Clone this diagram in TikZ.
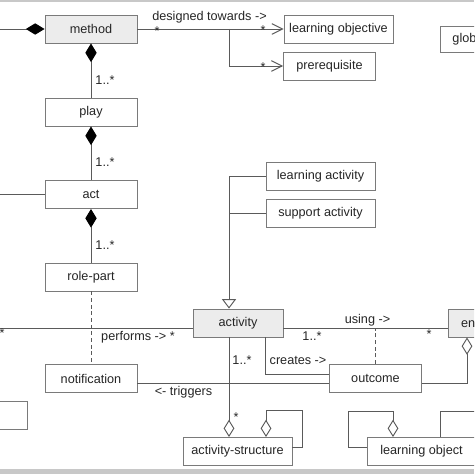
\documentclass[tikz,border=0pt]{standalone}
\usepackage{fontspec}
\setmainfont{Liberation Sans}
\usetikzlibrary{arrows.meta,calc}
\definecolor{umlline}{HTML}{5A5A5A}
\definecolor{umlbox}{HTML}{7A7A7A}
\definecolor{umlfill}{HTML}{ECECEC}
\definecolor{umlband}{HTML}{C8C8C8}

\begin{document}
\begin{tikzpicture}[x=0.75pt,y=-0.75pt,
    font=\fontsize{9.5}{11}\selectfont,
    cls/.style={draw=umlbox,line width=0.7pt,fill=white,minimum width=69pt,minimum height=21pt,inner sep=0pt,text=black!85},
    wide/.style={minimum width=81.75pt},
    hl/.style={fill=umlfill},
    lbl/.style={inner sep=0pt,text=black!85},
    conn/.style={draw=umlline,line width=0.7pt},
    comp/.style={conn,{Diamond[length=14pt,width=8.5pt,color=black]}-},
    agg/.style={conn,{Diamond[length=13pt,width=8pt,fill=white]}-},
    gen/.style={conn,-{Triangle[length=7pt,width=10.5pt,fill=white]}},
    nav/.style={conn,-{Straight Barb[length=8pt,width=8pt]}}]
    \useasboundingbox (0,0) rectangle (474,474);
    \clip (0,0) rectangle (474,474);

    % classes
    \node[cls,hl] (method) at (91,29) {method};
    \node[cls] (play) at (91,112) {play};
    \node[cls] (act) at (91,194.5) {act};
    \node[cls] (rolepart) at (91,277) {role-part};
    \node[cls] (notification) at (91,378.5) {notification};
    \node[cls] (leftbox) at (-19,415.5) {};
    \node[cls,hl,minimum width=67.5pt] (activity) at (238,323) {activity};
    \node[cls,wide] (actstruct) at (237.5,451.5) {activity-structure};
    \node[cls,wide] (learnact) at (320.5,176) {learning activity};
    \node[cls,wide] (suppact) at (320.5,213) {support activity};
    \node[cls,wide] (objective) at (338.5,29.5) {learning objective};
    \node[cls] (prereq) at (329.5,66) {prerequisite};
    \node[cls] (outcome) at (375.5,378.5) {outcome};
    \node[cls,wide] (learnobj) at (421.5,451.5) {learning object};
    \node[cls,hl,anchor=west,minimum width=0pt,inner xsep=9.5pt] (env) at (448,323) {environment};
    \node[cls,anchor=west,minimum width=0pt,minimum height=19pt,inner xsep=9pt] (global) at (440,39.5) {global elements};

    % helper points
    \coordinate (lm) at (-10,29);
    \coordinate (la) at (-10,194.5);
    \coordinate (lr) at (-10,328);
    \coordinate (split) at (229,29);
    \coordinate (gx) at (229,0);
    \coordinate (cx) at (265,0);
    \coordinate (ax) at (266,0);
    \coordinate (lox) at (393,0);
    \coordinate (rox) at (440,0);
    \coordinate (ex) at (467,0);
    \coordinate (trig) at ($(outcome.west)+(0,4.5)$);
    \coordinate (crt) at ($(outcome.west)+(0,-4.5)$);
    \coordinate (oe) at ($(outcome.east)+(0,4.5)$);

    % method side
    \draw[comp] (method) -- (lm);
    \draw[nav] (method.east) -- (method.east -| objective.west);
    \draw[nav] (split) |- (prereq.west);
    \node[lbl,anchor=west] (lbldesign) at (152,17) {designed towards ->};
    \node[lbl] (mdes) at (157,31) {*};
    \node[lbl] (mobj) at (263,30) {*};
    \node[lbl] (mpre) at (263,67) {*};

    \draw[comp] (method) -- (play);
    \node[lbl] (mplay) at (105,80) {1..*};
    \draw[comp] (play) -- (act);
    \node[lbl] (mact) at (105,162) {1..*};
    \draw[comp] (act) -- (rolepart);
    \node[lbl] (mrole) at (105,245) {1..*};
    \draw[conn] (act) -- (la);
    \draw[conn,dash pattern=on 3pt off 2pt] (rolepart) -- (notification);

    % performs
    \draw[conn] (lr) -- (lr -| activity.west);
    \node[lbl] (mperf) at (2,333) {*};
    \node[lbl] (lblperf) at (138,337) {performs -> *};

    % activity types
    \draw[gen] (learnact.west) -| (activity.north -| gx);
    \draw[conn] (suppact.west) -- (suppact.west -| gx);

    % activity-structure
    \draw[agg] (actstruct.north -| gx) -- (activity.south -| gx);
    \node[lbl] (mstr1) at (242,360) {1..*};
    \node[lbl] (mstr2) at (236,417) {*};
    \draw[agg] (actstruct.north -| ax) |- (302,410) |- ($(actstruct.east)+(0,-4.5)$);

    % outcome, notification
    \draw[conn] (activity.south -| cx) |- (crt);
    \node[lbl] (lblcreate) at (298,360) {creates ->};
    \draw[conn] (notification.east |- trig) -- (trig);
    \node[lbl] (lbltrig) at (183.5,392) {<- triggers};

    % environment
    \draw[conn] (lr -| activity.east) -- (lr -| env.west);
    \node[lbl] (lblusing) at (367.5,320) {using ->};
    \node[lbl] (muse1) at (312,336) {1..*};
    \node[lbl] (muse2) at (429,334) {*};
    \draw[conn,dash pattern=on 3pt off 2pt] (outcome.north) -- (outcome.north |- lr);
    \draw[agg] (env.south -| ex) |- (oe);

    % learning object
    \draw[agg] (learnobj.north -| lox) |- (348,411) |- ($(learnobj.west)+(0,-4.5)$);
    \draw[conn] (learnobj.north -| rox) |- (490,411);

    \fill[umlband] (0,0) rectangle (474,2);
    \fill[umlband] (0,469) rectangle (474,474);
\end{tikzpicture}
\end{document}
